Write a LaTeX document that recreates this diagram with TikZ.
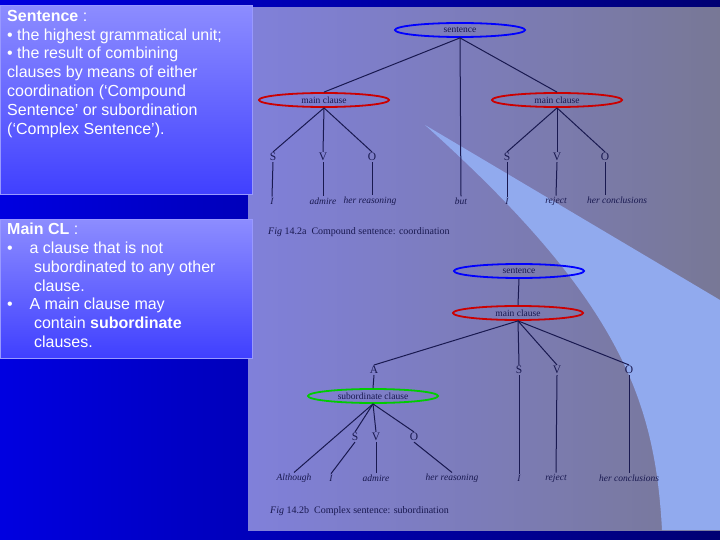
\documentclass[tikz,border=0pt]{standalone}
\usepackage{fontspec}
\setmainfont{Liberation Serif}
\newfontfamily\arial{Liberation Sans}
\usetikzlibrary{shapes.geometric}
\definecolor{ink}{RGB}{25,25,80}
\definecolor{panel}{RGB}{128,128,218}
\definecolor{panelr}{RGB}{120,120,150}
\definecolor{wedge}{RGB}{145,170,238}
\tikzset{
  wrd/.style={text=ink,font=\itshape\fontsize{9.5}{10}\selectfont,inner sep=1pt},
  fun/.style={text=ink,font=\fontsize{11.5}{12}\selectfont,inner sep=1pt},
  ring/.style={ellipse,draw,line width=1.8pt,minimum width=#1,minimum height=14pt,inner sep=0pt,text=ink,font=\fontsize{9.5}{10}\selectfont},
  br/.style={draw=ink,line width=1pt},
  figcap/.style={text=ink,font=\fontsize{10}{11}\selectfont,anchor=west,inner sep=0pt},
  box/.style={draw=white!60!blue,line width=1pt,top color=blue!45!white,bottom color=blue!75!white},
  boxtxt/.style={text=white,font=\arial\fontsize{16}{18.8}\selectfont,anchor=north west,inner sep=0pt,align=left}
}
\begin{document}
\begin{tikzpicture}[x=1pt,y=-1pt]
\useasboundingbox (0,0) rectangle (720,540);
\shade[left color=blue!88!black,right color=blue!45!black] (0,0) rectangle (720,540);
% panel
\shade[left color=panel,right color=panelr] (248,8) rectangle (720,530);
\fill[wedge] (425,125) -- (720,300) -- (720,530) -- (662,530) .. controls (655,400) and (620,300) .. (425,125) -- cycle;
% text boxes
\draw[box] (0,6) rectangle (252,195);
\draw[box] (0,220) rectangle (252,358);
\node[boxtxt] (t1) at (7,10) {\textbf{Sentence} :\\ \textbullet\ the highest grammatical unit;\\ \textbullet\ the result of combining\\ clauses by means of either\\ coordination (‘Compound\\ Sentence’ or subordination\\ (‘Complex Sentence’).};
\node[boxtxt] (t2) at (7,223) {\textbf{Main CL} :\\ \textbullet\hspace{1.05em}a clause that is not\\ \hspace{1.68em}subordinated to any other\\ \hspace{1.68em}clause.\\ \textbullet\hspace{1.05em}A main clause may\\ \hspace{1.68em}contain \textbf{subordinate}\\ \hspace{1.68em}clauses.};
% tree a
\node[ring=130pt,draw=blue] (s) at (460,30) {sentence};
\node[ring=130pt,draw=red!80!black] (m1) at (324,100) {main clause};
\node[ring=130pt,draw=red!80!black] (m2) at (557,100) {main clause};
\node[fun] (s1) at (273,157) {S};
\node[fun] (v1) at (323,157) {V};
\node[fun] (o1) at (372,157) {O};
\node[fun] (s2) at (507,157) {S};
\node[fun] (v2) at (557,157) {V};
\node[fun] (o2) at (605,157) {O};
\node[wrd] (w1) at (272,201) {I};
\node[wrd] (w2) at (323,201) {admire};
\node[wrd] (w3) at (370,201) {her reasoning};
\node[wrd] (w4) at (461,201) {but};
\node[wrd] (w5) at (507,201) {I};
\node[wrd] (w6) at (556,201) {reject};
\node[wrd] (w7) at (617,200) {her conclusions};
\draw[br] (s.south) -- (m1.north);
\draw[br] (s.south) -- (m2.north);
\draw[br] (s.south) -- (w4.north);
\draw[br] (m1.south) -- (s1.north); \draw[br] (m1.south) -- (v1.north); \draw[br] (m1.south) -- (o1.north);
\draw[br] (m2.south) -- (s2.north); \draw[br] (m2.south) -- (v2.north); \draw[br] (m2.south) -- (o2.north);
\draw[br] (s1.south) -- (w1.north); \draw[br] (v1.south) -- (w2.north); \draw[br] (o1.south) -- (o1.south|-w3.north);
\draw[br] (s2.south) -- (w5.north); \draw[br] (v2.south) -- (w6.north); \draw[br] (o2.south) -- (o2.south|-w7.north);
\node[figcap] (c1) at (268,232) {\textit{Fig} 14.2a\enspace Compound sentence: coordination};
% tree b
\node[ring=130pt,draw=blue] (sb) at (519,271) {sentence};
\node[ring=130pt,draw=red!80!black] (mb) at (518,313) {main clause};
\node[fun] (a) at (374,370) {A};
\node[ring=130pt,draw=green!80!black] (sub) at (373,396) {subordinate clause};
\node[fun] (sb1) at (519,370) {S};
\node[fun] (vb1) at (557,370) {V};
\node[fun] (ob1) at (629,370) {O};
\node[fun] (ss) at (355,437) {S};
\node[fun] (vs) at (376,437) {V};
\node[fun] (os) at (414,437) {O};
\node[wrd] (x1) at (294,478) {Although};
\node[wrd] (x2) at (331,478) {I};
\node[wrd] (x3) at (376,478) {admire};
\node[wrd] (x4) at (452,478) {her reasoning};
\node[wrd] (x5) at (519,478) {I};
\node[wrd] (x6) at (556,478) {reject};
\node[wrd] (x7) at (629,478) {her conclusions};
\draw[br] (sb.south) -- (mb.north);
\draw[br] (mb.south) -- (a.north); \draw[br] (mb.south) -- (sb1.north);
\draw[br] (mb.south) -- (vb1.north); \draw[br] (mb.south) -- (ob1.north);
\draw[br] (a.south) -- (sub.north);
\draw[br] (sub.south) -- (x1.north); \draw[br] (sub.south) -- (ss.north);
\draw[br] (sub.south) -- (vs.north); \draw[br] (sub.south) -- (os.north);
\draw[br] (ss.south) -- (x2.north); \draw[br] (vs.south) -- (x3.north); \draw[br] (os.south) -- (x4.north);
\draw[br] (sb1.south) -- (x5.north); \draw[br] (vb1.south) -- (x6.north); \draw[br] (ob1.south) -- (x7.north);
\node[figcap] (c2) at (270,511) {\textit{Fig} 14.2b\enspace Complex sentence: subordination};
\end{tikzpicture}
\end{document}
